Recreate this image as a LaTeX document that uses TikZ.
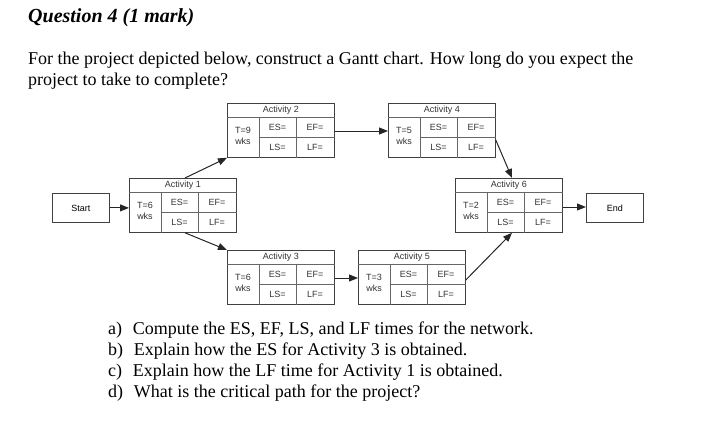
\documentclass[tikz,border=0pt]{standalone}
\usepackage{fontspec}
\setmainfont{Liberation Serif}
\newfontfamily\diag{Liberation Sans}
\usetikzlibrary{arrows.meta}
\tikzset{box/.style={draw=black!75,line width=0.8pt,minimum width=107pt,minimum height=54pt,inner sep=0pt,anchor=north west},
sep/.style={draw=black!60,line width=0.5pt},
cell/.style={font=\diag\fontsize{9}{10.5}\selectfont,text=black!80,inner sep=0pt},
conn/.style={line width=1pt,draw=black!85,-{Triangle[length=9pt,width=7pt]}},
term/.style={draw=black!75,line width=0.8pt,minimum width=57pt,minimum height=29pt,inner sep=0pt,anchor=north west,font=\diag\fontsize{9}{10.5}\selectfont}}
\newcommand{\actbox}[5]{%
 \node[box] (#1) at (#2,#3) {};
 \draw[sep] ([yshift=-14pt]#1.north west) -- ([yshift=-14pt]#1.north east);
 \draw[sep] ([xshift=32pt,yshift=-34pt]#1.north west) -- ([yshift=-34pt]#1.north east);
 \draw[sep] ([xshift=32pt,yshift=-14pt]#1.north west) -- ([xshift=32pt]#1.south west);
 \draw[sep] ([xshift=69pt,yshift=-14pt]#1.north west) -- ([xshift=69pt]#1.south west);
 \node[cell] (#1t) at ([yshift=-7pt]#1.north) {#4};
 \node[cell,align=center] (#1d) at ([xshift=16pt,yshift=-33pt]#1.north west) {T=#5\\wks};
 \node[cell] (#1es) at ([xshift=50.5pt,yshift=-24pt]#1.north west) {ES=};
 \node[cell] (#1ef) at ([xshift=88pt,yshift=-24pt]#1.north west) {EF=};
 \node[cell] (#1ls) at ([xshift=50.5pt,yshift=-44pt]#1.north west) {LS=};
 \node[cell] (#1lf) at ([xshift=88pt,yshift=-44pt]#1.north west) {LF=};
}
\begin{document}
\begin{tikzpicture}[x=1pt,y=-1pt]
\useasboundingbox[fill=white] (0,0) rectangle (721,445);
\node[anchor=west,font=\bfseries\itshape\fontsize{20}{22}\selectfont,inner sep=0pt] (q) at (28,18) {Question 4 (1 mark)};
\node[anchor=north west,align=left,font=\fontsize{18}{21}\selectfont,inner sep=0pt] (intro) at (28,52) {For the project depicted below, construct a Gantt chart. How long do you expect the\\project to take to complete?};
\node[term] (start) at (52,193) {Start};
\node[term] (end) at (586,193) {End};
\actbox{a1}{129}{178}{Activity 1}{6}
\actbox{a2}{227}{103}{Activity 2}{9}
\actbox{a4}{388}{103}{Activity 4}{5}
\actbox{a6}{455}{178}{Activity 6}{2}
\actbox{a3}{227}{250}{Activity 3}{6}
\actbox{a5}{358}{250}{Activity 5}{3}
\draw[conn] (start.east) -- (start.east -| a1.west);
\draw[conn] ([xshift=56pt]a1.north west) -- (a2.south west);
\draw[conn] ([xshift=56pt]a1.south west) -- (a3.north west);
\draw[conn] ([yshift=-28pt]a2.north east) -- ([yshift=-28pt]a4.north west);
\draw[conn] ([yshift=-28pt]a3.north east) -- ([yshift=-28pt]a5.north west);
\draw[conn] ([yshift=-37pt]a4.north east) -- ([xshift=57pt]a6.north west);
\draw[conn] ([yshift=-30pt]a5.north east) -- ([xshift=57pt]a6.south west);
\draw[conn] ([yshift=-29pt]a6.north east) -- ([yshift=-29pt]a6.north east -| end.west);
\node[anchor=north west,align=left,font=\fontsize{18}{21}\selectfont,inner sep=0pt] (qs) at (108,322) {a)\hspace{0.6em}Compute the ES, EF, LS, and LF times for the network.\\b)\hspace{0.6em}Explain how the ES for Activity 3 is obtained.\\c)\hspace{0.6em}Explain how the LF time for Activity 1 is obtained.\\d)\hspace{0.6em}What is the critical path for the project?};
\end{tikzpicture}
\end{document}
